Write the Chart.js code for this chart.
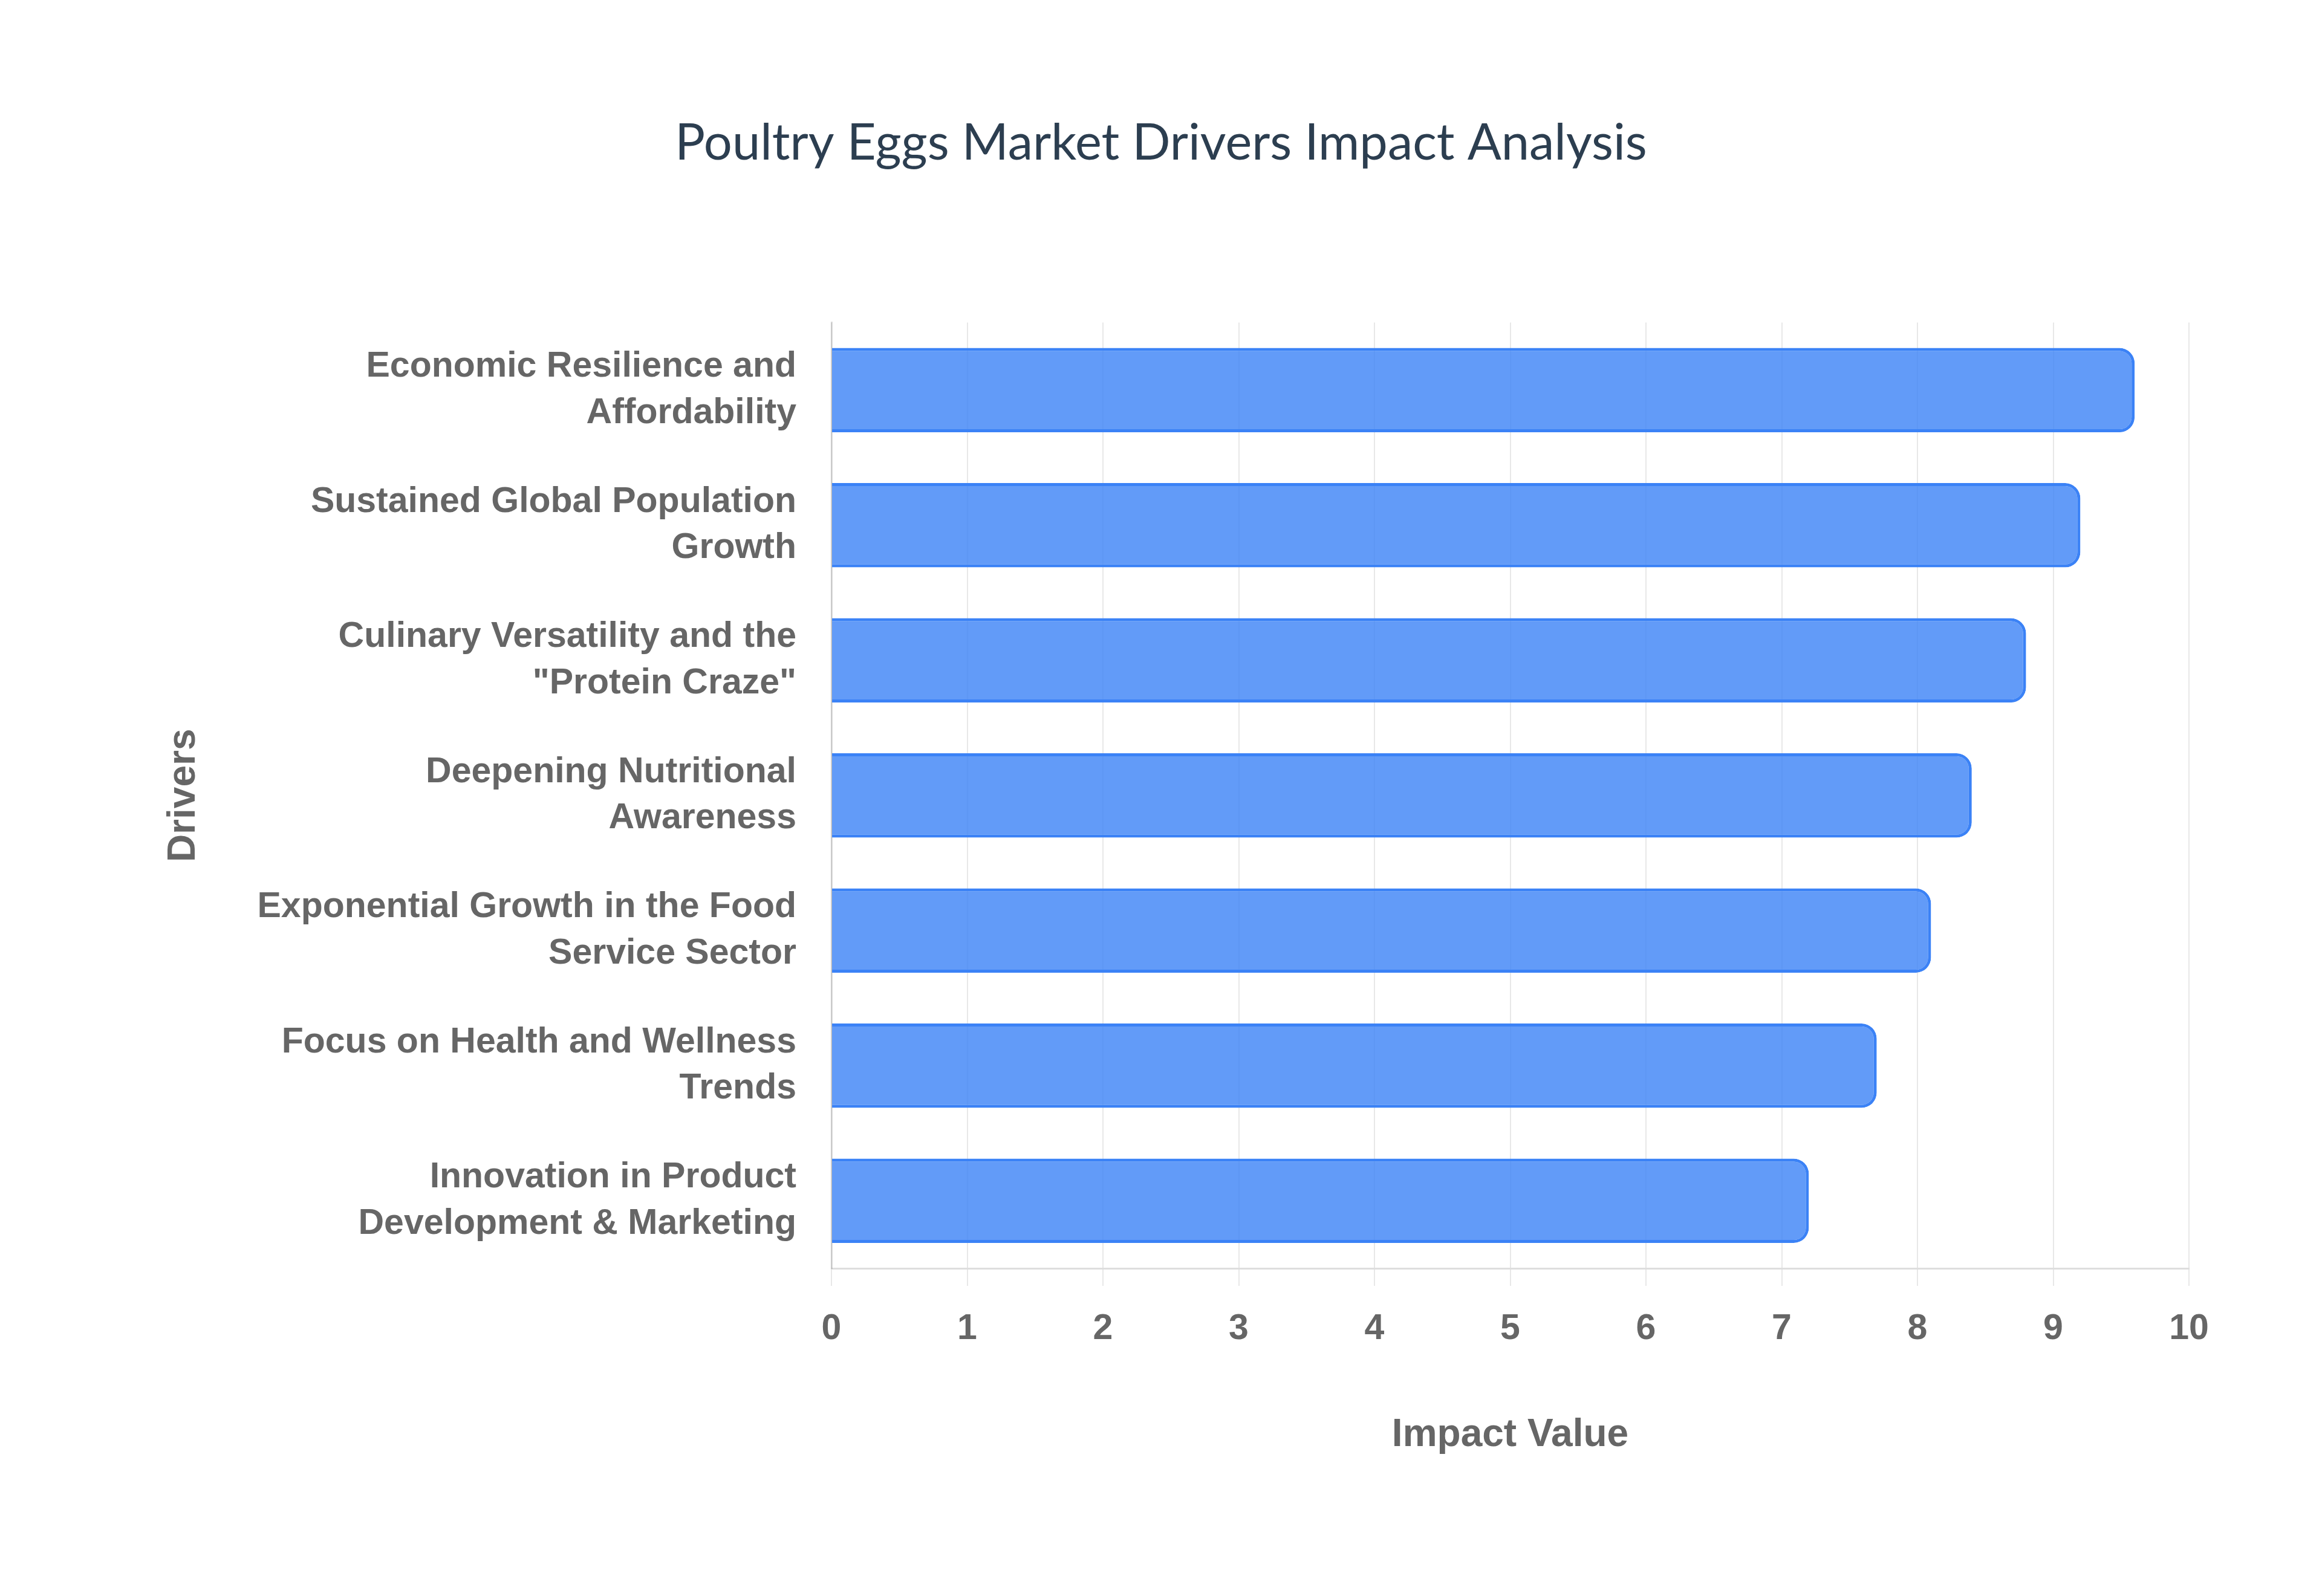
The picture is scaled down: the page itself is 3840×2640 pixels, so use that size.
<!DOCTYPE html>
<html>
<head>
<meta charset="utf-8">
<script src="https://cdn.jsdelivr.net/npm/chart.js@4.4.1/dist/chart.umd.min.js"></script>
<style>
  html,body{margin:0;padding:0;background:#fff}
  #wrap{width:3840px;height:2640px;position:relative}
</style>
</head>
<body>
<div id="wrap"><canvas id="chart"></canvas></div>
<script>
const titleText = 'Poultry Eggs Market Drivers Impact Analysis';
const drivers = [
  ['Economic Resilience and', 'Affordability'],
  ['Sustained Global Population', 'Growth'],
  ['Culinary Versatility and the', '"Protein Craze"'],
  ['Deepening Nutritional', 'Awareness'],
  ['Exponential Growth in the Food', 'Service Sector'],
  ['Focus on Health and Wellness', 'Trends'],
  ['Innovation in Product', 'Development & Marketing']
];
const impactValues = [9.6, 9.2, 8.8, 8.4, 8.1, 7.7, 7.2];
const xMin = 0, xMax = 10, xStep = 1;

const tickFont = {family: "'Liberation Sans', Arial, sans-serif", size: 59, weight: 'bold', lineHeight: 1.3};
const axisTitleFont = {family: "'Liberation Sans', Arial, sans-serif", size: 64, weight: 'bold', lineHeight: 1.2};
const grey = '#666666';

new Chart(document.getElementById('chart'), {
  type: 'bar',
  data: {
    labels: drivers,
    datasets: [{
      label: 'Impact Value',
      data: impactValues,
      backgroundColor: 'rgba(59,130,246,0.8)',
      borderColor: '#3b82f6',
      borderWidth: 5,
      borderRadius: 25,
      categoryPercentage: 0.8,
      barPercentage: 0.78
    }]
  },
  options: {
    indexAxis: 'y',
    responsive: true,
    maintainAspectRatio: false,
    animation: false,
    devicePixelRatio: 1,
    layout: {padding: 0},
    plugins: {
      legend: {display: false},
      tooltip: {enabled: false},
      title: {
        display: true,
        text: titleText,
        color: '#2c3e50',
        font: {family: "Lato, 'Liberation Sans', sans-serif", size: 83, weight: 'normal', lineHeight: 1.2},
        padding: {top: 187, bottom: 247}
      }
    },
    scales: {
      x: {
        min: xMin, max: xMax,
        ticks: {stepSize: xStep, color: grey, font: tickFont, padding: 33},
        grid: {color: 'rgba(0,0,0,0.09)', lineWidth: 2, tickLength: 29},
        border: {color: 'rgba(0,0,0,0.13)', width: 3},
        title: {display: true, text: 'Impact Value', color: grey, font: axisTitleFont, padding: {top: 0, bottom: 227}},
        afterFit: s => { s.height = 542; }
      },
      y: {
        ticks: {color: grey, font: tickFont, padding: 58},
        grid: {display: false, drawTicks: false},
        border: {color: 'rgba(0,0,0,0.13)', width: 3},
        title: {display: true, text: 'Drivers', color: grey, font: axisTitleFont, padding: {top: 266, bottom: 0}},
        afterFit: s => { s.width = 1375; }
      },
      // empty right-hand axis that only reserves the margin right of the plot
      yRight: {
        position: 'right',
        ticks: {display: false},
        grid: {display: false, drawTicks: false},
        border: {display: false},
        afterFit: s => { s.width = 220; }
      }
    }
  }
});
</script>
</body>
</html>
